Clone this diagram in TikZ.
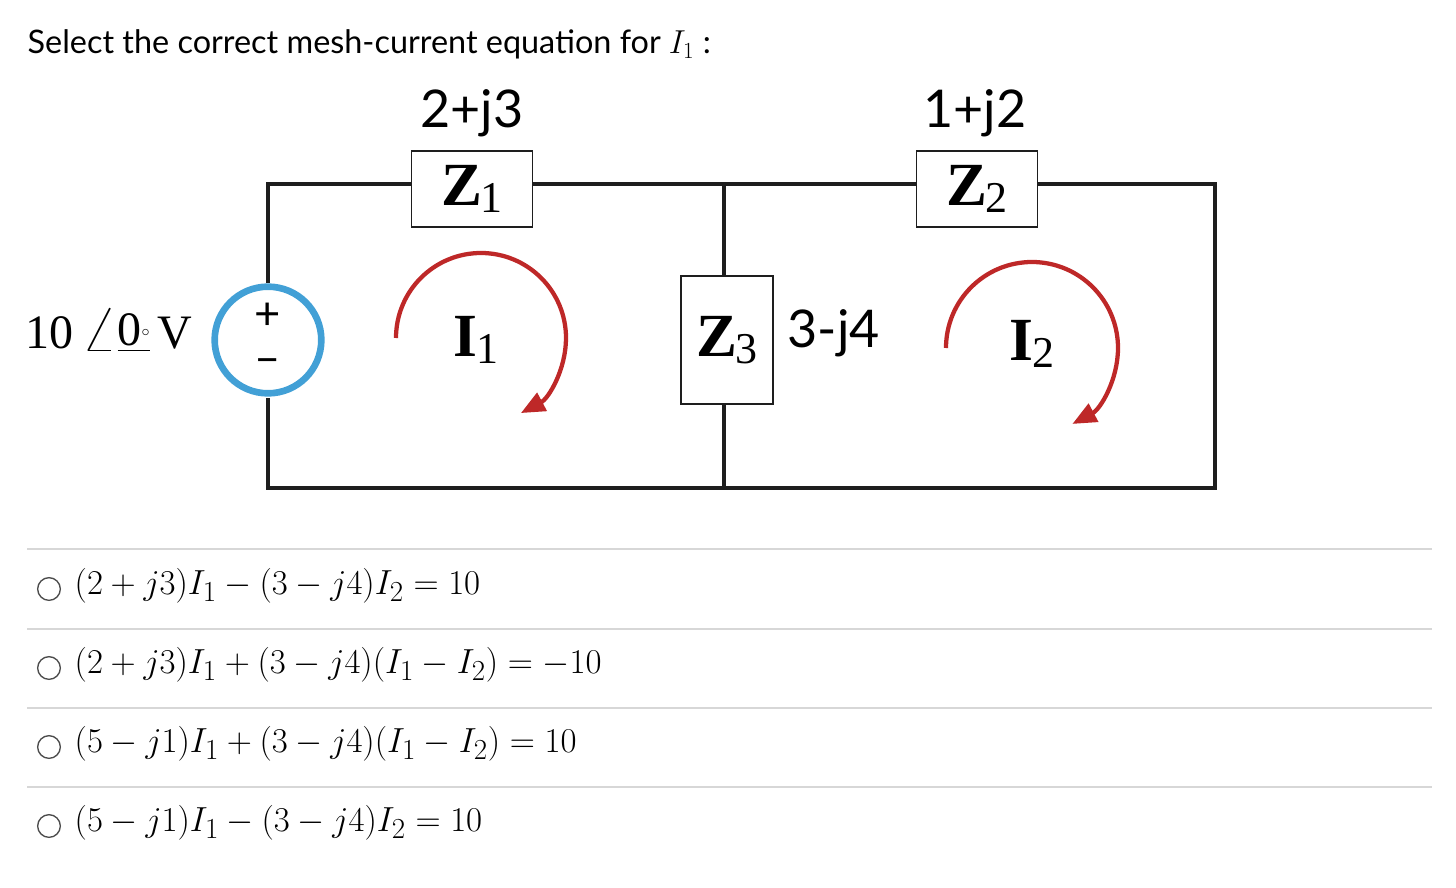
\documentclass[tikz,border=0pt]{standalone}
\usepackage{fontspec}
\usepackage{graphicx}
\setmainfont{Lato}
\newfontfamily\tms{Liberation Serif}
\usetikzlibrary{arrows.meta}
\definecolor{wirec}{RGB}{30,30,30}
\definecolor{srcblue}{RGB}{66,160,214}
\definecolor{arcred}{RGB}{190,40,40}
\definecolor{sepgray}{RGB}{215,215,215}
\newcommand{\zsub}[1]{\kern-1pt\raisebox{-5pt}{\tms\mdseries\fontsize{33}{33}\selectfont #1}}
\newcommand{\eqs}[1]{\scalebox{1.05}{$#1$}}
\begin{document}
\begin{tikzpicture}[x=0.75pt,y=-0.75pt,
  wire/.style={draw=wirec,line width=2.6pt},
  zbox/.style={draw=wirec,fill=white,line width=1pt,minimum width=91pt,minimum height=57pt,inner sep=0pt},
  zlab/.style={font=\tms\fontsize{46}{46}\selectfont},
  vlab/.style={font=\fontsize{39}{39}\selectfont},
  meshar/.style={draw=arcred,line width=3.2pt,-{Triangle[length=18pt,width=15pt]}},
  sep/.style={draw=sepgray,line width=0.8pt},
  radio/.style={draw=black!70,line width=1pt,circle,minimum size=17pt,inner sep=0pt},
  eq/.style={anchor=west,font=\fontsize{28.6}{28.6}\selectfont}]
\useasboundingbox (0,0) rectangle (1456,888);
\node[anchor=west,font=\fontsize{24.3}{24.3}\selectfont] (title) at (23,44) {Select the correct mesh-current equation for $I_1$ :};
\coordinate (tl) at (268,184); \coordinate (tr) at (1215,184);
\coordinate (bl) at (268,488); \coordinate (br) at (1215,488);
\coordinate (tm) at (724,184); \coordinate (bm) at (724,488);
\draw[wire] (268,283) -- (tl) -- (tr) -- (br) -- (bl) -- (268,398);
\draw[wire] (tm) -- (bm);
\node[circle,draw=srcblue,line width=5pt,minimum size=80pt,inner sep=0pt,fill=white] (src) at (268,340) {};
\node[font=\fontsize{34}{34}\selectfont] (plus) at (268,316) {+};
\node[font=\fontsize{34}{34}\selectfont] (minus) at (268,366) {\textendash};
\node[zbox] (z1) at (472,189) {};
\node[zlab] at (z1) {\textbf{Z}\zsub{1}};
\node[zbox] (z2) at (977,189) {};
\node[zlab] at (z2) {\textbf{Z}\zsub{2}};
\node[zbox,minimum width=69pt,minimum height=96pt] (z3) at (727,340) {};
\node[zlab] at (z3) {\textbf{Z}\zsub{3}};
\node[vlab] (l1) at (472,113) {2+j3};
\node[vlab] (l2) at (975,113) {1+j2};
\node[vlab,anchor=west] (l3) at (783,333) {3-j4};
\node[anchor=east,font=\tms\fontsize{36}{36}\selectfont] (vs) at (197,330) {10\,\raisebox{-2pt}{\scalebox{1.4}{$\angle$}}\underline{\raisebox{2pt}{0}\raisebox{9pt}{\fontsize{12}{12}\selectfont$\circ$}}\,V};
\node[zlab] (i1) at (476,340) {\textbf{I}\zsub{1}};
\node[zlab] (i2) at (1032,344) {\textbf{I}\zsub{2}};
\draw[meshar] (396,338) arc[start angle=180,end angle=422,radius=85];
\draw[meshar] (946,348) arc[start angle=180,end angle=422,radius=86];
\foreach \y in {549,629,708,787} \draw[sep] (27,\y) -- (1432,\y);
\node[radio] (r1) at (49,589) {}; \node[eq] (e1) at (70,586) {\eqs{(2+j3)I_1-(3-j4)I_2=10}};
\node[radio] (r2) at (49,668) {}; \node[eq] (e2) at (70,665) {\eqs{(2+j3)I_1+(3-j4)(I_1-I_2)=-10}};
\node[radio] (r3) at (49,747) {}; \node[eq] (e3) at (70,744) {\eqs{(5-j1)I_1+(3-j4)(I_1-I_2)=10}};
\node[radio] (r4) at (49,826) {}; \node[eq] (e4) at (70,823) {\eqs{(5-j1)I_1-(3-j4)I_2=10}};
\end{tikzpicture}
\end{document}
